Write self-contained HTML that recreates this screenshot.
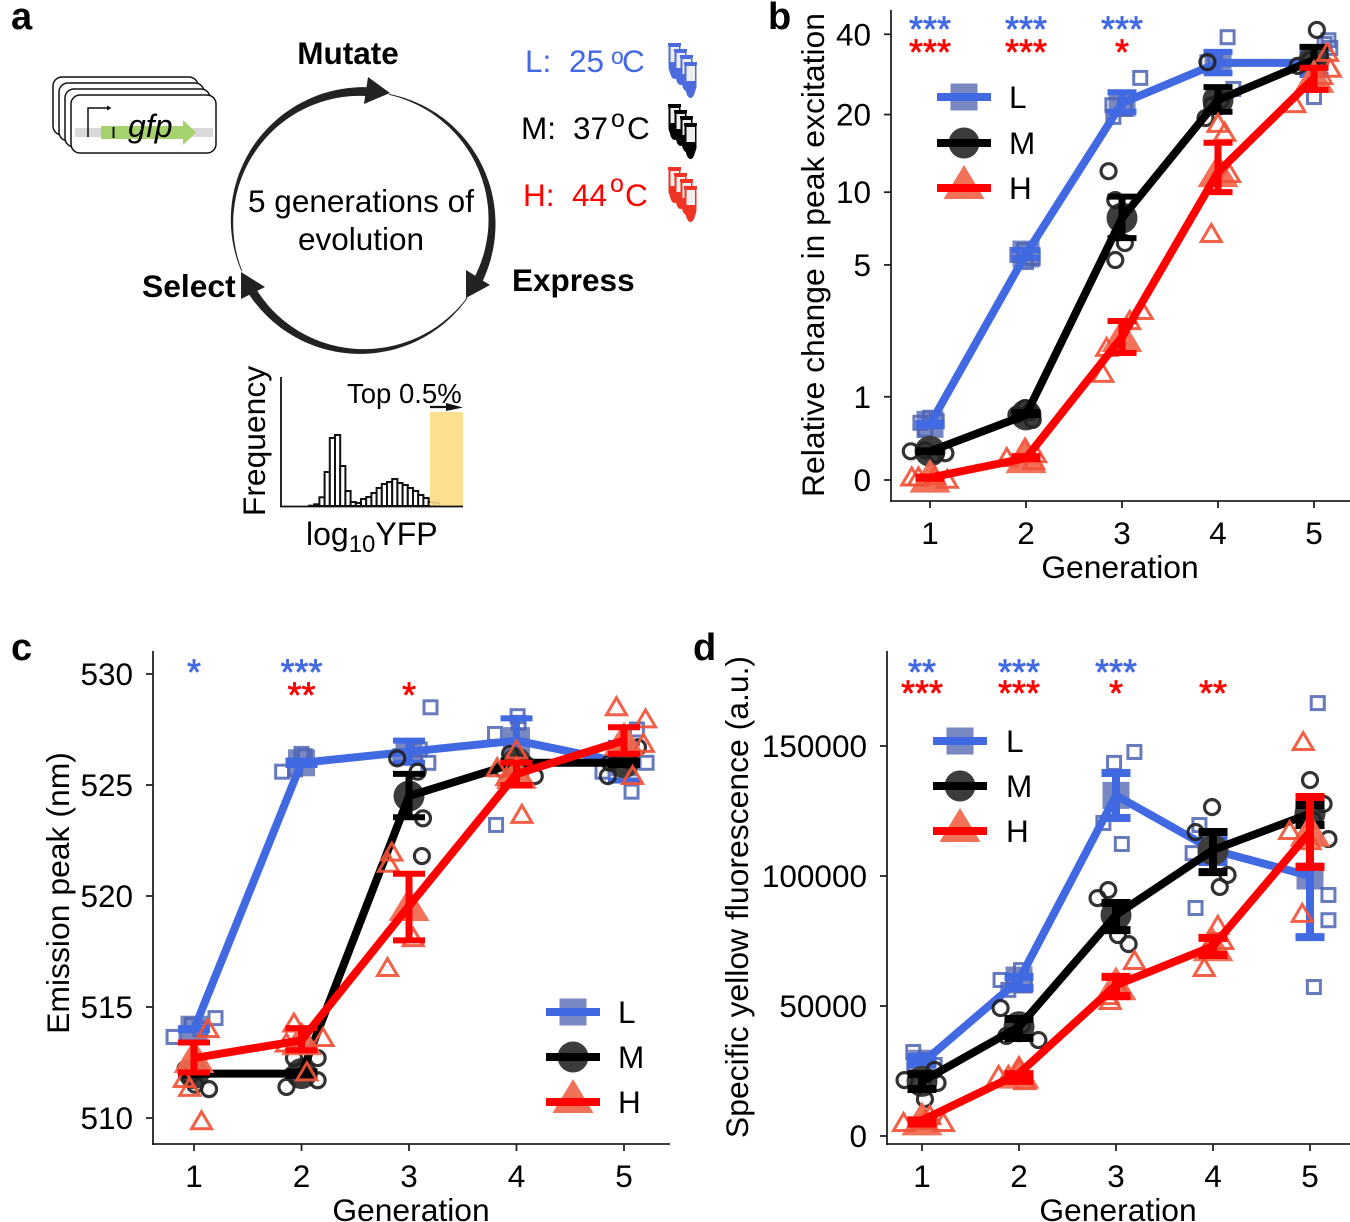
<!DOCTYPE html>
<html lang="en">
<head>
<meta charset="utf-8">
<title>Directed evolution of GFP at three temperatures</title>
<style>
  html, body { margin: 0; padding: 0; background: #fff; }
  svg { display: block; }
  text { font-family: "Liberation Sans", sans-serif; fill: #000; }
</style>
</head>
<body>
<svg id="fig" xmlns="http://www.w3.org/2000/svg" width="1350" height="1222" viewBox="0 0 1350 1222">
  <rect x="0" y="0" width="1350" height="1222" fill="#fff"/>

  <text x="11" y="29" font-size="38" font-weight="700">a</text>
  <text x="768" y="29" font-size="38" font-weight="700">b</text>
  <text x="11" y="660" font-size="38" font-weight="700">c</text>
  <text x="693" y="660" font-size="38" font-weight="700">d</text>

  <g id="panel-a">
    <g fill="#fff" stroke="#111" stroke-width="1.5">
      <rect x="53" y="77" width="145" height="58" rx="9"/>
      <rect x="59" y="83" width="145" height="58" rx="9"/>
      <rect x="65" y="89" width="145" height="58" rx="9"/>
      <rect x="71" y="95" width="145" height="58" rx="9"/>
    </g>
    <rect x="75" y="128" width="138" height="9" fill="#d9d9d9"/>
    <polygon points="101,126 183,126 183,120 196,132.5 183,145 183,139 101,139" fill="#a5d26d"/>
    <path d="M88 137 V108 H108" fill="none" stroke="#111" stroke-width="1.5"/>
    <polygon points="107,105.5 111.5,108 107,110.5" fill="#111"/>
    <line x1="113.5" y1="127" x2="113.5" y2="138" stroke="#111" stroke-width="2"/>
    <text x="128" y="137" font-size="32" font-style="italic">gfp</text>

    <g id="cycle">
      <polygon points="368,77 390,93 364,104" fill="#222"/>
      <polygon points="466,270 490,285 466,298" fill="#222"/>
      <polygon points="241,272 265,287 241,299" fill="#222"/>
    </g>
    <text x="348" y="64" font-size="31.5" font-weight="700" text-anchor="middle">Mutate</text>
    <text x="142" y="297" font-size="31.8" font-weight="700">Select</text>
    <text x="512" y="291" font-size="31.5" font-weight="700">Express</text>
    <text x="361" y="212" font-size="31.5" text-anchor="middle">5 generations of</text>
    <text x="361" y="250" font-size="31.5" text-anchor="middle">evolution</text>

    <g fill="#4169e1">
      <text x="525" y="72" font-size="31.5" style="fill:#4169e1">L:</text>
      <text x="569" y="72" font-size="31.5" style="fill:#4169e1">25</text>
      <text x="611" y="64" font-size="23" style="fill:#4169e1">o</text>
      <text x="622" y="72" font-size="31.5" style="fill:#4169e1">C</text>
    </g>
    <g>
      <text x="521" y="139" font-size="31.5">M:</text>
      <text x="573" y="139" font-size="31.5">37</text>
      <text x="611" y="127" font-size="25">o</text>
      <text x="627" y="139" font-size="31.5">C</text>
    </g>
    <g>
      <text x="523" y="206" font-size="31.5" style="fill:#f00">H:</text>
      <text x="572" y="206" font-size="31.5" style="fill:#f00">44</text>
      <text x="610" y="192" font-size="25" style="fill:#f00">o</text>
      <text x="625" y="206" font-size="31.5" style="fill:#f00">C</text>
    </g>
    <g id="tubes"></g>

    <rect x="430" y="412" width="33" height="95" fill="#fde08f" id="gate"/>
    <g id="hist"></g>
    <rect x="430" y="412" width="33" height="94" fill="#fde08f" opacity="0.9"/>
    <line x1="281" y1="377" x2="281" y2="507" stroke="#111" stroke-width="1.8"/>
    <line x1="280" y1="506.5" x2="463" y2="506.5" stroke="#111" stroke-width="1.8"/>
    <text x="347" y="403" font-size="27.5">Top 0.5%</text>
    <line x1="430" y1="407" x2="456" y2="407" stroke="#111" stroke-width="2.2"/>
    <polygon points="446,403 463,407.5 446,411" fill="#111"/>
    <text transform="translate(265,441) rotate(-90)" font-size="31.8" text-anchor="middle">Frequency</text>
    <text x="306" y="545" font-size="32">log<tspan dy="7" font-size="24">10</tspan><tspan dy="-7">YFP</tspan></text>
  </g>

  <g id="panel-b"></g>
  <g id="panel-c"></g>
  <g id="panel-d"></g>
</svg>

<script>
/* ---------- shared categories ---------- */
const generations = [1, 2, 3, 4, 5];
const legendLabels = ['L', 'M', 'H'];

/* ---------- histogram (panel a) ---------- */
const histCounts = [0.3, 1.7, 8.7, 34, 68, 71, 40, 15, 4, 3, 7, 9, 13, 18, 22, 24, 27, 23, 21, 18, 15, 11, 8, 4, 3];

/* ---------- panel b : relative change in peak excitation ---------- */
const bTicks = [0, 1, 5, 10, 20, 40];
const bStarsL = ['***', '***', '***', '', ''];
const bStarsH = ['***', '***', '*', '', ''];
const bMeanL = [0.59, 5.57, 22.1, 31.3, 31.3];
const bLowL = [0.57, 5.36, 20.5, 28.7, 28.2];
const bHighL = [0.61, 5.79, 24.3, 34.4, 34.1];
const bMeanM = [0.27, 0.72, 7.87, 22.7, 32.1];
const bLowM = [0.26, 0.72, 6.5, 20.5, 30];
const bHighM = [0.28, 0.76, 9.6, 25.4, 35.9];
const bMeanH = [0.02, 0.2, 2.29, 12, 27.5];
const bLowH = [0.01, 0.19, 1.88, 10, 24.8];
const bHighH = [0.03, 0.22, 2.76, 15.6, 30];
const bRepL = [[0.61, 0.68, 0.63, 0.52], [5.52, 5.79, 5.36, 5.15], [27.5, 19.6, 21.7, 21], [39, 31.5, 25, 32.1], [23.3, 38, 35.6, 36.8]];
const bJitL = [[-0.1, 0, 0.07, -0.05], [-0.09, -0.02, 0.07, 0], [0.19, -0.09, -0.1, 0.03], [0.1, -0.11, 0.16, -0.03], [0, 0.15, 0.17, 0.11]];
const bRepM = [[0.27, 0.25, 0.24, 0.28], [0.72, 0.82, 0.65, 0.76], [12.1, 9.3, 6.2, 5.25], [31.5, 19.4, 21.7, 22.7], [41.5, 30.5, 32.1, 33.5]];
const bJitM = [[-0.2, 0.16, 0.06, -0.05], [-0.1, -0.01, 0.07, 0.04], [-0.14, -0.07, 0.03, -0.07], [-0.11, -0.13, -0.06, 0.03], [0.03, -0.17, -0.04, 0.06]];
const bRepH = [[0.03, 0.03, 0.04, 0.01], [0.21, 0.31, 0.25, 0.18], [1.44, 2.03, 2.79, 3.12], [6.83, 11.9, 18.6, 17.2], [22.1, 34.4, 30, 28.2]];
const bJitH = [[-0.19, -0.12, 0.05, 0.18], [-0.2, -0.01, 0.1, 0.08], [-0.2, -0.16, 0.08, 0.21], [-0.07, 0.12, 0, 0.07], [-0.2, 0.14, 0.17, 0.08]];

/* ---------- panel c : emission peak ---------- */
const cTicks = [510, 515, 520, 525, 530];
const cStarsL = ['*', '***', '', '', ''];
const cStarsH = ['', '**', '*', '', ''];
const cMeanL = [514, 526, 526.5, 527, 526];
const cLowL = [513.95, 525.9, 526, 525.9, 525.2];
const cHighL = [514.05, 526.1, 527, 528, 526.9];
const cMeanM = [512, 512, 524.5, 526, 526];
const cLowM = [511.95, 511.9, 523.55, 525.9, 525.9];
const cHighM = [512.05, 512.1, 525.5, 526.1, 526.1];
const cMeanH = [512.7, 513.5, 519.55, 525.5, 527];
const cLowH = [512.05, 513.05, 518, 525, 526.4];
const cHighH = [513.4, 514.05, 521, 526, 527.6];
const cRepL = [[513.65, 514.5, 514.2, 514], [525.6, 526.4, 526.3, 525.7], [528.5, 526, 526.3, 526.6], [523.2, 528.1, 527.3, 527.8], [524.7, 526, 527.5, 525.6]];
const cJitL = [[-0.19, 0.2, -0.02, 0.06], [-0.18, 0, 0.03, -0.06], [0.2, 0.18, -0.08, 0.1], [-0.19, 0.01, -0.2, 0.02], [0.07, 0.21, 0.12, -0.2]];
const cRepM = [[511.3, 511.9, 511.5, 512.2], [511.4, 511.7, 512.7, 512.7], [526.2, 523.5, 521.8, 525.6], [525.4, 525.7, 526.4, 526], [526.7, 525.4, 526, 526.1]];
const cJitM = [[0.14, -0.04, 0.01, -0.08], [-0.14, 0.15, 0.15, -0.07], [-0.11, 0.13, 0.12, 0.08], [0.17, -0.13, -0.06, 0.03], [0.13, -0.15, -0.13, 0.04]];
const cRepH = [[509.9, 511.4, 511.8, 514.05], [514.3, 513.4, 513.65, 512.1], [516.8, 522, 521.5, 518.15], [523.7, 525.8, 526.6, 525.4], [528.55, 528, 526.9, 525.45]];
const cJitH = [[0.07, -0.04, -0.09, 0.13], [-0.07, -0.14, 0.2, 0.05], [-0.2, -0.16, -0.19, 0.04], [0.05, -0.18, 0, -0.09], [-0.07, 0.2, 0.18, 0.08]];

/* ---------- panel d : specific yellow fluorescence ---------- */
const dTicks = [0, 50000, 100000, 150000];
const dStarsL = ['**', '***', '***', '', ''];
const dStarsH = ['***', '***', '*', '**', ''];
const dMeanL = [28000, 60000, 131000, 110000, 100000];
const dLowL = [27700, 56900, 122300, 105400, 76500];
const dHighL = [30400, 61200, 139600, 113800, 123500];
const dMeanM = [21000, 42000, 85000, 110000, 124000];
const dLowM = [18100, 37700, 79200, 101500, 119600];
const dHighM = [23800, 45000, 89600, 116900, 127300];
const dMeanH = [6000, 24000, 58000, 73000, 117000];
const dLowH = [4800, 21200, 53800, 69600, 103500];
const dHighH = [6000, 23800, 61200, 76200, 130400];
const dRepL = [[32300, 27300, 29200, 27300], [60000, 63800, 56200, 58000], [143500, 147700, 120400, 112300], [119600, 108800, 87700, 108000], [166500, 92700, 83000, 57300]];
const dJitL = [[-0.09, -0.08, 0.03, 0.13], [-0.19, 0.02, -0.11, 0.06], [-0.02, 0.19, -0.13, 0.06], [-0.14, -0.21, -0.18, -0.03], [0.08, 0.19, 0.19, 0.04]];
const dRepM = [[14200, 20400, 21500, 25400], [49200, 36900, 38500, 42700], [91500, 94600, 77300, 73800], [126500, 116900, 95800, 100400], [136900, 127700, 114200, 121500]];
const dJitM = [[0.03, 0.16, -0.18, 0.13], [-0.19, 0.2, -0.13, 0.03], [-0.19, -0.08, 0.02, 0.13], [-0.01, -0.18, 0.07, 0.15], [0, 0.14, 0.19, 0.03]];
const dRepH = [[5400, 6200, 5400, 8100], [23500, 23500, 26500, 21500], [67700, 58000, 54200, 52300], [65000, 81200, 75400, 73500], [151900, 85800, 117700, 113800]];
const dJitH = [[-0.19, 0.03, 0.22, 0.08], [-0.21, -0.11, 0, 0.06], [0.19, 0.01, -0.08, -0.06], [-0.09, 0.05, 0.1, -0.03], [-0.07, -0.08, -0.21, 0]];

/* ---------- helpers ---------- */
const NS = 'http://www.w3.org/2000/svg';
function mk(tag, attrs, parent) {
  const el = document.createElementNS(NS, tag);
  for (const k in attrs) el.setAttribute(k, attrs[k]);
  parent.appendChild(el);
  return el;
}
const COLORS = {
  L: { line: '#4169e1', rep: '#4c63b3', big: '#4c5fae' },
  M: { line: '#000000', rep: '#222222', big: '#3e3b3b' },
  H: { line: '#ff0000', rep: '#f15338', big: '#f06a50' }
};

function triPts(x, y, w, h) {
  return [[x - w / 2, y + h / 2], [x + w / 2, y + h / 2], [x, y - h / 2]].map(p => p.join(',')).join(' ');
}
function bigMarker(s, x, y, parent) {
  let el;
  if (s === 'L') el = mk('rect', { x: x - 13.5, y: y - 13.5, width: 27, height: 27, fill: COLORS.L.big, opacity: 0.75 }, parent);
  else if (s === 'M') el = mk('circle', { cx: x, cy: y, r: 15.5, fill: COLORS.M.big }, parent);
  else el = mk('polygon', { points: triPts(x, y - 2, 41, 34), fill: COLORS.H.big, opacity: 0.95 }, parent);
  return el;
}
function smallMarker(s, x, y, parent) {
  let el;
  if (s === 'L') el = mk('rect', { x: x - 6.5, y: y - 6.5, width: 13, height: 13, fill: 'none', stroke: COLORS.L.rep, 'stroke-width': 3, opacity: 0.85 }, parent);
  else if (s === 'M') el = mk('circle', { cx: x, cy: y, r: 7.5, fill: 'none', stroke: COLORS.M.rep, 'stroke-width': 3.2, opacity: 0.92 }, parent);
  else el = mk('polygon', { points: triPts(x, y, 20, 17), fill: 'none', stroke: COLORS.H.rep, 'stroke-width': 3, opacity: 0.92 }, parent);
  return el;
}

function drawAxes(parent, p) {
  const ax = mk('g', { stroke: '#222', 'stroke-width': 1.8, fill: 'none' }, parent);
  
  
  const yl = mk('line', { x1: p.left, y1: p.top, x2: p.left, y2: p.bottom + 1 }, ax);
  
  
  const xl = mk('line', { x1: p.left - 1, y1: p.bottom, x2: p.right, y2: p.bottom }, ax);
  
  
  p.ticks.forEach(v => {
    const yy = p.y(v);
    const t = mk('line', { x1: p.left - 7, y1: yy, x2: p.left, y2: yy }, ax);
    
    
    const lab = mk('text', { x: p.left - 20, y: yy + 11, 'font-size': 31.5, 'text-anchor': 'end' }, parent);
    
    
    lab.textContent = String(v);
  });
  generations.forEach(g => {
    const xx = p.x(g);
    const t = mk('line', { x1: xx, y1: p.bottom, x2: xx, y2: p.bottom + 7 }, ax);
    
    
    const lab = mk('text', { x: xx, y: p.bottom + 43, 'font-size': 31.5, 'text-anchor': 'middle' }, parent);
    
    
    lab.textContent = String(g);
  });
  const xt = mk('text', { x: p.xTitleX, y: p.bottom + 77, 'font-size': 31.8, 'text-anchor': 'middle' }, parent);
  
  
  xt.textContent = 'Generation';
  const yt = mk('text', { transform: 'translate(' + p.yTitleX + ',' + p.yTitleY + ') rotate(-90)', 'font-size': 31.9, 'text-anchor': 'middle' }, parent);
  
  
  yt.textContent = p.yTitle;
}

function drawSeries(parent, p, s, mean, low, high, reps, jit) {
  const g = mk('g', {}, parent);
  
  
  const col = COLORS[s].line;
  generations.forEach((gen, i) => {
    const big = bigMarker(s, p.x(gen), p.y(mean[i]), g);
    
    
    reps[i].forEach((v, j) => {
      const m = smallMarker(s, p.x(gen + jit[i][j]), p.y(v), g);
      
      
    });
  });
  const pts = generations.map((gen, i) => p.x(gen) + ',' + p.y(mean[i])).join(' ');
  const line = mk('polyline', { points: pts, fill: 'none', stroke: col, 'stroke-width': 8, 'stroke-linejoin': 'round' }, g);
  
  
  generations.forEach((gen, i) => {
    const xx = p.x(gen), half = p.capW / 2;
    const yLo = p.y(low[i]), yHi = p.y(high[i]);
    const stem = mk('line', { x1: xx, y1: yLo, x2: xx, y2: yHi, stroke: col, 'stroke-width': p.stemT }, g);
    
    
    const capA = mk('line', { x1: xx - half, y1: yLo, x2: xx + half, y2: yLo, stroke: col, 'stroke-width': p.capT }, g);
    
    
    const capB = mk('line', { x1: xx - half, y1: yHi, x2: xx + half, y2: yHi, stroke: col, 'stroke-width': p.capT }, g);
    
    
  });
}

function drawStars(parent, p, arr, y, color, name) {
  arr.forEach((str, i) => {
    if (!str) return;
    const t = mk('text', { x: p.x(generations[i]), y: y + 17.5, 'font-size': 36, 'text-anchor': 'middle', style: 'fill:' + color + ';stroke:' + color + ';stroke-width:0.7' }, parent);
    
    
    t.textContent = str;
  });
}

function drawLegend(parent, lineX, textX, ys) {
  const g = mk('g', {}, parent);
  
  
  legendLabels.forEach((s, i) => {
    const y = ys[i];
    const e = mk('g', {}, g);
    
    
    const m = bigMarker(s, lineX + 27, s === 'H' ? y - 4 : y, e);
    
    
    const l = mk('line', { x1: lineX, y1: y, x2: lineX + 54, y2: y, stroke: COLORS[s].line, 'stroke-width': 8 }, e);
    
    
    const t = mk('text', { x: textX, y: y + 11, 'font-size': 31.5 }, e);
    
    
    t.textContent = s;
  });
}

/* ---------- panels ---------- */
const bPanel = {
  left: 891, bottom: 501, top: 10, right: 1350, capW: 29, capT: 6, stemT: 7, ticks: bTicks,
  x: g => 930 + 96 * (g - 1),
  y: v => 480 - 83.2 * Math.log2(1 + v),
  xTitleX: 1120, yTitleX: 824, yTitleY: 255,
  yTitle: 'Relative change in peak excitation'
};
const cPanel = {
  left: 153, bottom: 1144, top: 651, right: 670, capW: 32, capT: 6, stemT: 7, ticks: cTicks,
  x: g => 194 + 107.5 * (g - 1),
  y: v => 1118 - 22.2 * (v - 510),
  xTitleX: 411, yTitleX: 69, yTitleY: 893,
  yTitle: 'Emission peak (nm)'
};
const dPanel = {
  left: 887, bottom: 1144, top: 651, right: 1350, capW: 29, capT: 8, stemT: 8, ticks: dTicks,
  x: g => 922 + 97 * (g - 1),
  y: v => 1136 - v * 0.0026,
  xTitleX: 1118, yTitleX: 748, yTitleY: 897,
  yTitle: 'Specific yellow fluorescence (a.u.)'
};

const bRoot = document.getElementById('panel-b');
drawAxes(bRoot, bPanel);
drawSeries(bRoot, bPanel, 'L', bMeanL, bLowL, bHighL, bRepL, bJitL);
drawSeries(bRoot, bPanel, 'M', bMeanM, bLowM, bHighM, bRepM, bJitM);
drawSeries(bRoot, bPanel, 'H', bMeanH, bLowH, bHighH, bRepH, bJitH);
drawStars(bRoot, bPanel, bStarsL, 24, '#4169e1', 'significance-low');
drawStars(bRoot, bPanel, bStarsH, 47, '#ff0000', 'significance-high');
drawLegend(bRoot, 937, 1009, [97, 143, 188]);

const cRoot = document.getElementById('panel-c');
drawAxes(cRoot, cPanel);
drawSeries(cRoot, cPanel, 'L', cMeanL, cLowL, cHighL, cRepL, cJitL);
drawSeries(cRoot, cPanel, 'M', cMeanM, cLowM, cHighM, cRepM, cJitM);
drawSeries(cRoot, cPanel, 'H', cMeanH, cLowH, cHighH, cRepH, cJitH);
drawStars(cRoot, cPanel, cStarsL, 667, '#4169e1', 'significance-low');
drawStars(cRoot, cPanel, cStarsH, 690, '#ff0000', 'significance-high');
drawLegend(cRoot, 546, 618, [1012, 1057, 1102]);

const dRoot = document.getElementById('panel-d');
drawAxes(dRoot, dPanel);
drawSeries(dRoot, dPanel, 'L', dMeanL, dLowL, dHighL, dRepL, dJitL);
drawSeries(dRoot, dPanel, 'M', dMeanM, dLowM, dHighM, dRepM, dJitM);
drawSeries(dRoot, dPanel, 'H', dMeanH, dLowH, dHighH, dRepH, dJitH);
drawStars(dRoot, dPanel, dStarsL, 667, '#4169e1', 'significance-low');
drawStars(dRoot, dPanel, dStarsH, 688, '#ff0000', 'significance-high');
drawLegend(dRoot, 933, 1006, [741, 786, 831]);

/* ---------- panel a : histogram bars ---------- */
const histRoot = document.getElementById('hist');
histCounts.forEach((c, i) => {
  const r = mk('rect', { x: 309 + 5.2 * i, y: 506 - c, width: 5.2, height: c, fill: '#fff', stroke: '#111', 'stroke-width': 2 }, histRoot);
  
  
});

/* ---------- panel a : tapered cycle arcs ---------- */
const cycleRoot = document.getElementById('cycle');
function taperArc(a0, a1, w0, w1) {
  const cx = 362, cy = 221.5, r = 130, n = 60, outer = [], inner = [];
  for (let i = 0; i <= n; i++) {
    const t = i / n, a = (a0 + (a1 - a0) * t) * Math.PI / 180, w = w0 + (w1 - w0) * t;
    outer.push((cx + (r + w / 2) * Math.sin(a)).toFixed(1) + ',' + (cy - (r + w / 2) * Math.cos(a)).toFixed(1));
    inner.unshift((cx + (r - w / 2) * Math.sin(a)).toFixed(1) + ',' + (cy - (r - w / 2) * Math.cos(a)).toFixed(1));
  }
  return outer.concat(inner).join(' ');
}
const arcA = mk('polygon', { points: taperArc(247.5, 364, 0.8, 9), fill: '#222' }, cycleRoot);


const arcB = mk('polygon', { points: taperArc(12, 116, 0.8, 9), fill: '#222' }, cycleRoot);


const arcC = mk('polygon', { points: taperArc(126, 238, 0.8, 9), fill: '#222' }, cycleRoot);



/* ---------- panel a : tube icons ---------- */
const tubesRoot = document.getElementById('tubes');
function tube(x, y, color) {
  const g = mk('g', {}, tubesRoot);
  
  
  mk('path', { d: 'M' + (x + 0.5) + ' ' + (y + 3) + ' H' + (x + 12.5) + ' V' + (y + 25) + ' L' + (x + 10) + ' ' + (y + 33) + ' Q' + (x + 6.5) + ' ' + (y + 39) + ' ' + (x + 3) + ' ' + (y + 33) + ' L' + (x + 0.5) + ' ' + (y + 25) + ' Z', fill: color }, g);
  mk('rect', { x: x, y: y, width: 13, height: 3, fill: color }, g);
  mk('rect', { x: x + 2.5, y: y + 4, width: 8.5, height: 15, fill: '#eeeeee' }, g);
}
[['#4d6bdc', 43], ['#000000', 104], ['#ee3424', 167]].forEach(row => {
  [[668, 0], [674, 6], [680, 12], [684, 19]].forEach(o => tube(o[0], row[1] + o[1], row[0]));
});
</script>
</body>
</html>
